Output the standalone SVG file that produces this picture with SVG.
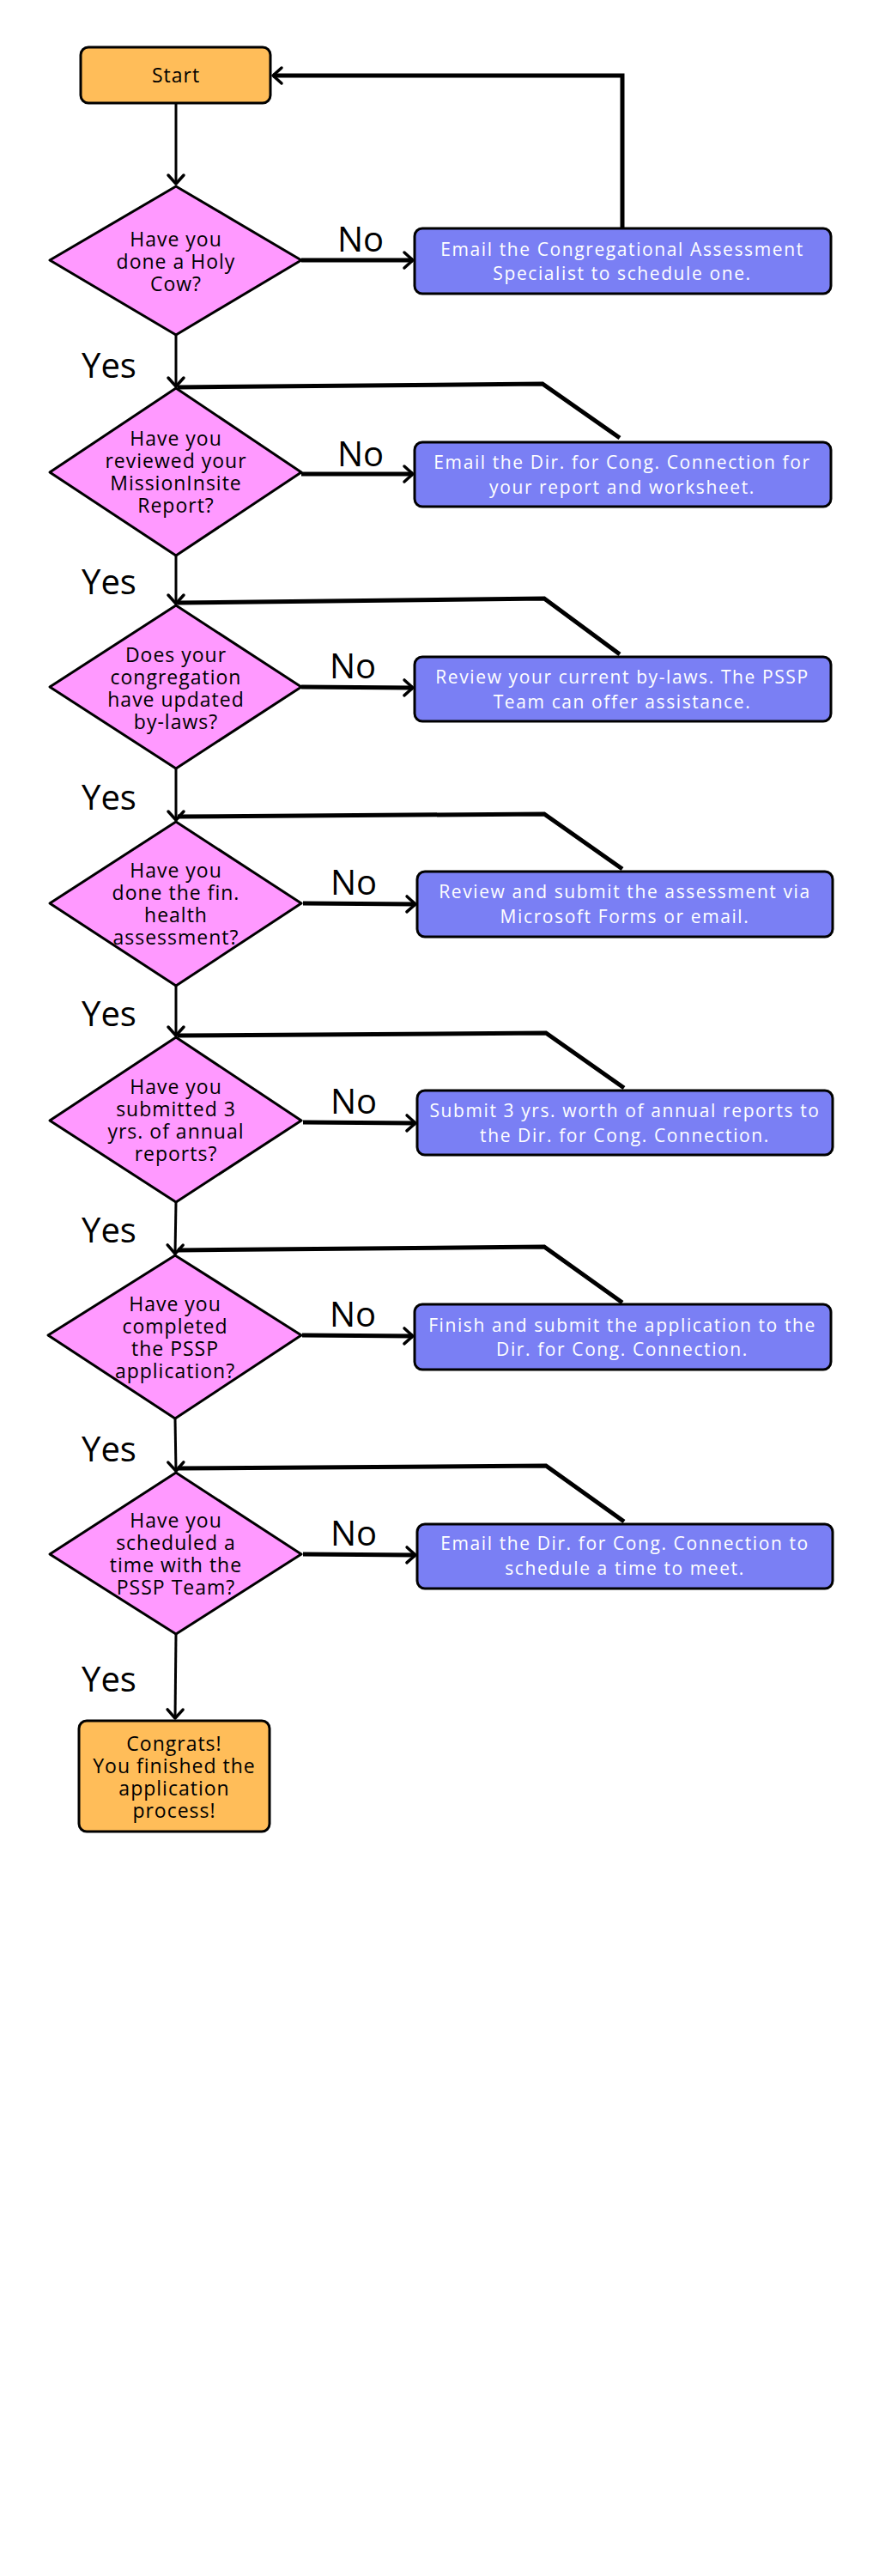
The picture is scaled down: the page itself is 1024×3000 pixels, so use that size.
<svg xmlns="http://www.w3.org/2000/svg" width="1024" height="3000" viewBox="0 0 1024 3000">
<defs>
<marker id="arr" markerUnits="userSpaceOnUse" markerWidth="30" markerHeight="30" viewBox="-15 -15 30 30" refX="0" refY="0" orient="auto">
<path d="M -10 -9 L 0 0 L -10 9" fill="none" stroke="#000" stroke-width="3.5" stroke-linecap="round" stroke-linejoin="round"/>
</marker>
<style>
.term{fill:#FFBD59;stroke:#000;stroke-width:3}
.dec{fill:#FF99FF;stroke:#000;stroke-width:3;stroke-linejoin:round}
.act{fill:#7A7FF4;stroke:#000;stroke-width:3}
.dt{font-family:"Open Sans","DejaVu Sans",sans-serif;font-size:23px;fill:#000;text-anchor:middle;dominant-baseline:central;letter-spacing:1px}
.at{font-family:"Open Sans","DejaVu Sans",sans-serif;font-size:21px;fill:#fff;text-anchor:middle;dominant-baseline:central;letter-spacing:1.6px}
.lbl{font-family:"Open Sans","DejaVu Sans",sans-serif;font-size:40px;fill:#000;text-anchor:middle}
.thin{fill:none;stroke:#000;stroke-width:3}
.thick{fill:none;stroke:#000;stroke-width:5;stroke-linejoin:miter}
</style>
</defs>
<rect width="1024" height="3000" fill="#fff"/>

<g id="connectors">
<path class="thin" d="M205 120 L205 214" marker-end="url(#arr)"/>
<path class="thick" d="M351 303 L481 303" marker-end="url(#arr)"/>
<path class="thick" d="M725 266 L725 88 L318 88" marker-end="url(#arr)"/>
<path class="thin" d="M205 390 L205 450" marker-end="url(#arr)"/>
<path class="thick" d="M722 510 L632 447 L207 451"/>
<path class="thick" d="M351 552 L481 552" marker-end="url(#arr)"/>
<path class="thin" d="M205 647 L205 703" marker-end="url(#arr)"/>
<path class="thick" d="M722 762 L634 697 L207 702"/>
<path class="thick" d="M351 800 L481 801" marker-end="url(#arr)"/>
<path class="thin" d="M205 895 L205 955" marker-end="url(#arr)"/>
<path class="thick" d="M725 1012 L634 948 L207 951"/>
<path class="thick" d="M353 1052 L484 1053" marker-end="url(#arr)"/>
<path class="thin" d="M205 1148 L205 1206" marker-end="url(#arr)"/>
<path class="thick" d="M727 1267 L636 1203 L207 1206"/>
<path class="thick" d="M353 1307 L484 1308" marker-end="url(#arr)"/>
<path class="thin" d="M205 1400 L204 1460" marker-end="url(#arr)"/>
<path class="thick" d="M725 1517 L634 1452 L207 1456"/>
<path class="thick" d="M352 1555 L481 1556" marker-end="url(#arr)"/>
<path class="thin" d="M204 1652 L205 1713" marker-end="url(#arr)"/>
<path class="thick" d="M727 1772 L636 1707 L207 1710"/>
<path class="thick" d="M353 1810 L484 1811" marker-end="url(#arr)"/>
<path class="thin" d="M205 1903 L204 2001" marker-end="url(#arr)"/>
</g>

<g id="labels">
<text class="lbl" x="420" y="293">No</text>
<text class="lbl" x="420" y="543">No</text>
<text class="lbl" x="411" y="790">No</text>
<text class="lbl" x="412" y="1042">No</text>
<text class="lbl" x="412" y="1297">No</text>
<text class="lbl" x="411" y="1545">No</text>
<text class="lbl" x="412" y="1800">No</text>
<text class="lbl" x="127" y="440">Yes</text>
<text class="lbl" x="127" y="692">Yes</text>
<text class="lbl" x="127" y="943">Yes</text>
<text class="lbl" x="127" y="1195">Yes</text>
<text class="lbl" x="127" y="1447">Yes</text>
<text class="lbl" x="127" y="1702">Yes</text>
<text class="lbl" x="127" y="1970">Yes</text>
</g>

<g id="start">
<rect class="term" x="94" y="55" width="221" height="65" rx="9"/>
<text class="dt" x="205" y="87">Start</text>
</g>

<g id="q1">
<polygon class="dec" points="205,217 351,303 205,390 58,303"/>
<text class="dt" x="205" y="278">Have you</text>
<text class="dt" x="205" y="304">done a Holy</text>
<text class="dt" x="205" y="330">Cow?</text>
</g>
<g id="a1">
<rect class="act" x="483" y="266" width="485" height="76" rx="9"/>
<text class="at" x="725" y="290">Email the Congregational Assessment</text>
<text class="at" x="725" y="318">Specialist to schedule one.</text>
</g>

<g id="q2">
<polygon class="dec" points="205,452 351,550 205,647 58,550"/>
<text class="dt" x="205" y="510">Have you</text>
<text class="dt" x="205" y="536">reviewed your</text>
<text class="dt" x="205" y="562">MissionInsite</text>
<text class="dt" x="205" y="588">Report?</text>
</g>
<g id="a2">
<rect class="act" x="483" y="515" width="485" height="75" rx="9"/>
<text class="at" x="725" y="538">Email the Dir. for Cong. Connection for</text>
<text class="at" x="725" y="567">your report and worksheet.</text>
</g>

<g id="q3">
<polygon class="dec" points="205,705 351,800 205,895 58,800"/>
<text class="dt" x="205" y="762">Does your</text>
<text class="dt" x="205" y="788">congregation</text>
<text class="dt" x="205" y="814">have updated</text>
<text class="dt" x="205" y="840">by-laws?</text>
</g>
<g id="a3">
<rect class="act" x="483" y="765" width="485" height="75" rx="9"/>
<text class="at" x="725" y="788">Review your current by-laws. The PSSP</text>
<text class="at" x="725" y="817">Team can offer assistance.</text>
</g>

<g id="q4">
<polygon class="dec" points="205,957 351,1052 205,1148 58,1052"/>
<text class="dt" x="205" y="1013">Have you</text>
<text class="dt" x="205" y="1039">done the fin.</text>
<text class="dt" x="205" y="1065">health</text>
<text class="dt" x="205" y="1091">assessment?</text>
</g>
<g id="a4">
<rect class="act" x="486" y="1015" width="484" height="76" rx="9"/>
<text class="at" x="728" y="1038">Review and submit the assessment via</text>
<text class="at" x="728" y="1067">Microsoft Forms or email.</text>
</g>

<g id="q5">
<polygon class="dec" points="205,1208 351,1305 205,1400 58,1305"/>
<text class="dt" x="205" y="1265">Have you</text>
<text class="dt" x="205" y="1291">submitted 3</text>
<text class="dt" x="205" y="1317">yrs. of annual</text>
<text class="dt" x="205" y="1343">reports?</text>
</g>
<g id="a5">
<rect class="act" x="486" y="1270" width="484" height="75" rx="9"/>
<text class="at" x="728" y="1293">Submit 3 yrs. worth of annual reports to</text>
<text class="at" x="728" y="1322">the Dir. for Cong. Connection.</text>
</g>

<g id="q6">
<polygon class="dec" points="204,1462 351,1555 204,1652 56,1555"/>
<text class="dt" x="204" y="1518">Have you</text>
<text class="dt" x="204" y="1544">completed</text>
<text class="dt" x="204" y="1570">the PSSP</text>
<text class="dt" x="204" y="1596">application?</text>
</g>
<g id="a6">
<rect class="act" x="483" y="1519" width="485" height="76" rx="9"/>
<text class="at" x="725" y="1543">Finish and submit the application to the</text>
<text class="at" x="725" y="1571">Dir. for Cong. Connection.</text>
</g>

<g id="q7">
<polygon class="dec" points="205,1715 351,1810 205,1903 58,1810"/>
<text class="dt" x="205" y="1770">Have you</text>
<text class="dt" x="205" y="1796">scheduled a</text>
<text class="dt" x="205" y="1822">time with the</text>
<text class="dt" x="205" y="1848">PSSP Team?</text>
</g>
<g id="a7">
<rect class="act" x="486" y="1775" width="484" height="75" rx="9"/>
<text class="at" x="728" y="1797">Email the Dir. for Cong. Connection to</text>
<text class="at" x="728" y="1826">schedule a time to meet.</text>
</g>

<g id="end">
<rect class="term" x="92" y="2004" width="222" height="129" rx="9"/>
<text class="dt" x="203" y="2030">Congrats!</text>
<text class="dt" x="203" y="2056">You finished the</text>
<text class="dt" x="203" y="2082">application</text>
<text class="dt" x="203" y="2108">process!</text>
</g>
</svg>
